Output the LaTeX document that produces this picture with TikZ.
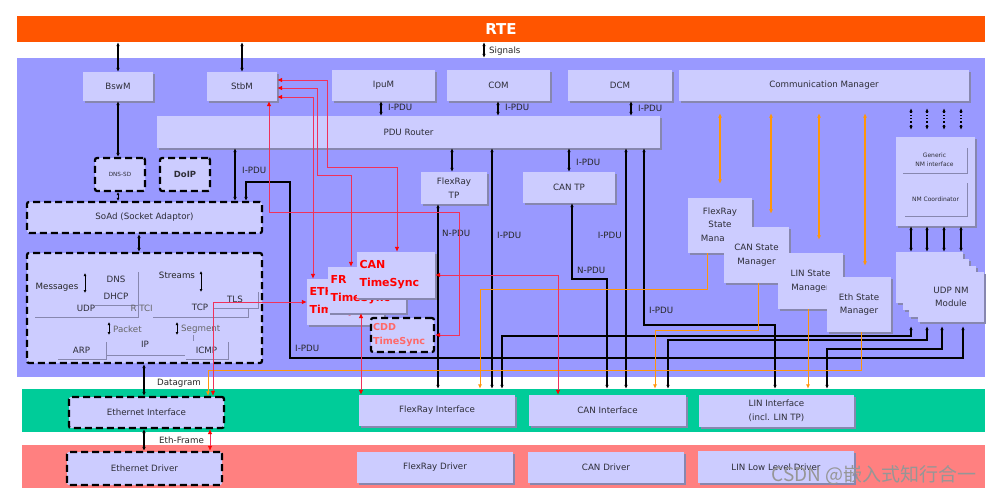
\documentclass[tikz,border=0pt]{standalone}
\usepackage{fontspec}
\setmainfont{DejaVu Sans}
\newfontfamily\cjkf{Noto Sans CJK SC}
\usetikzlibrary{arrows.meta,shadows}
\definecolor{rtec}{RGB}{255,85,0}
\definecolor{bswc}{RGB}{153,153,255}
\definecolor{boxc}{RGB}{204,204,255}
\definecolor{grnc}{RGB}{0,204,153}
\definecolor{pnkc}{RGB}{255,128,128}
\definecolor{shc}{RGB}{135,135,175}
\definecolor{txtc}{RGB}{45,45,55}
\definecolor{redl}{RGB}{240,50,90}
\definecolor{orgl}{RGB}{255,150,10}
\definecolor{cddt}{RGB}{255,105,105}
\definecolor{wmc}{RGB}{150,150,150}
\newcommand\bxat[7]{\node[#1, minimum width={#5-#3}, minimum height={#6-#4}] (#2) at ({(#3+#5)/2},{(#4+#6)/2}) {#7};}
\begin{document}
\begin{tikzpicture}[x=1pt,y=-1pt,
 fnt/.style={font=\fontsize{8.7}{13.5}\selectfont},
 bandst/.style={fill=#1, draw=none, inner sep=0pt},
 bxbase/.style={fill=boxc, draw=none, inner sep=0pt, align=center, text=txtc, fnt},
 bx/.style={bxbase, drop shadow={shadow xshift=1.5pt, shadow yshift=-1.5pt, fill=shc, opacity=1}},
 ibx/.style={bxbase, drop shadow={shadow xshift=1pt, shadow yshift=-1pt, fill=shc, opacity=1}},
 dbx/.style={bxbase, draw=black, line width=2.2pt, dash pattern=on 7pt off 4pt, rounded corners=2pt},
 tsbx/.style={bx, text=red, align=left, inner xsep=2.5pt, font=\fontsize{11}{18}\selectfont\bfseries},
 lbl/.style={inner sep=0pt, fnt, text=black!85},
 tipk/.style={>={Latex[length=4pt,width=3.6pt]}},
 dar/.style={<->, tipk, line width=1.2pt, black},
 tdar/.style={<->, >={Latex[length=3pt,width=3pt]}, line width=1pt, black},
 oar/.style={<->, >={Latex[length=4.5pt,width=4pt,color=orgl]}, line width=1.1pt, draw=orgl},
 oarr/.style={->, >={Latex[length=4.5pt,width=4pt,color=orgl]}, line width=1pt, draw=orgl},
 rar/.style={<->, >={Latex[length=5pt,width=4.6pt,color=red]}, line width=0.9pt, draw=redl}
]
\useasboundingbox (0,0) rectangle (992,496);
\fill[white] (0,0) rectangle (992,496);
% bands
\bxat{bandst=rtec, text=white, font=\fontsize{15}{17}\selectfont\bfseries}{rte}{17}{16}{985}{42}{RTE}
\bxat{bandst=bswc}{bsw}{17}{58}{985}{377}{}
\bxat{bandst=grnc}{grn}{22}{389}{985}{432}{}
\bxat{bandst=pnkc}{pnk}{22}{445}{985}{488}{}
% top row
\bxat{bx}{bswm}{83}{72}{153}{101}{BswM}
\bxat{bx}{stbm}{207}{72}{277}{101}{StbM}
\bxat{bx}{ipum}{332}{70}{435}{101}{IpuM}
\bxat{bx}{com}{447}{70}{550}{101}{COM}
\bxat{bx}{dcm}{568}{70}{672}{101}{DCM}
\bxat{bx}{comm}{679}{70}{969}{101}{Communication Manager}
\bxat{bx}{pdur}{157}{116}{660}{148}{PDU Router}
% ethernet stack
\bxat{dbx, font=\fontsize{5.7}{7}\selectfont}{dnssd}{95}{158}{145}{191}{DNS-SD}
\bxat{dbx, font=\fontsize{8.5}{10}\selectfont\bfseries}{doip}{160}{158}{210}{191}{DoIP}
\bxat{dbx}{soad}{27}{202}{262}{233}{SoAd (Socket Adaptor)}
\bxat{dbx}{tcpip}{27}{253}{262}{363}{}
\bxat{ibx}{udp}{34}{300}{138}{317}{UDP}
\bxat{ibx}{dns}{94}{271}{138}{287}{DNS}
\bxat{ibx}{dhcp}{94}{287}{138}{305}{DHCP}
\node[lbl, anchor=east, text=black!60] (rtci) at (153,308) {R TCI};
\bxat{ibx}{tcp}{152}{297}{248}{317}{TCP}
\bxat{ibx}{tls}{212}{291}{258}{308}{TLS}
\bxat{ibx}{ip}{97}{334}{193}{355}{IP}
\bxat{ibx}{arp}{57}{341}{106}{359}{ARP}
\bxat{ibx}{icmp}{185}{341}{228}{359}{ICMP}
% TPs
\bxat{bx}{frtp}{421}{172}{487}{204}{FlexRay\\TP}
\bxat{bx}{cantp}{523}{172}{615}{203}{CAN TP}
% state managers
\bxat{bx}{frsm}{688}{198}{752}{253}{FlexRay\\State\\Manager}
\bxat{bx}{cansm}{724}{227}{789}{283}{CAN State\\Manager}
\bxat{bx}{linsm}{778}{253}{843}{309}{LIN State\\Manager}
\bxat{bx}{ethsm}{827}{277}{891}{332}{Eth State\\Manager}
% NM
\bxat{bx}{nmo}{896}{137}{975}{226}{}
\bxat{ibx, font=\fontsize{6}{9}\selectfont}{gnm}{902}{147}{967}{173}{Generic\\NM interface}
\bxat{ibx, font=\fontsize{6}{9}\selectfont}{nmc}{904}{182}{967}{216}{NM Coordinator}
\bxat{bx}{nm1}{896}{252}{963}{303}{}
\bxat{bx}{nm2}{903}{259}{969}{310}{}
\bxat{bx}{nm3}{909}{266}{976}{317}{}
\bxat{bx}{udpnm}{918}{272}{984}{322}{UDP NM\\Module}
% TimeSync
\bxat{tsbx, text width=72pt}{ethts}{307}{279}{384}{325}{ETH\\TimeSync}
\bxat{tsbx, text width=73pt}{frts}{328}{267}{406}{313}{FR\\TimeSync}
\bxat{tsbx, text width=73pt}{cants}{357}{252}{435}{298}{CAN\\TimeSync}
\bxat{dbx, text=cddt, align=left, inner xsep=2pt, text width=59pt, font=\fontsize{9.6}{14}\selectfont\bfseries}{cddts}{371}{318}{434}{352}{CDD\\TimeSync}
% interfaces and drivers
\bxat{dbx}{ethif}{69}{397}{224}{428}{Ethernet Interface}
\bxat{bx}{frif}{359}{395}{515}{426}{FlexRay Interface}
\bxat{bx}{canif}{529}{395}{686}{426}{CAN Interface}
\bxat{bx}{linif}{699}{395}{854}{427}{LIN Interface\\(incl. LIN TP)}
\bxat{dbx}{ethdrv}{67}{452}{222}{485}{Ethernet Driver}
\bxat{bx}{frdrv}{357}{452}{513}{483}{FlexRay Driver}
\bxat{bx}{candrv}{528}{452}{684}{483}{CAN Driver}
\bxat{bx}{lindrv}{698}{451}{854}{483}{LIN Low Level Driver}

% ---------- black connectors
\draw[dar] (rte.south -| bswm.north) -- (bswm.north);
\draw[dar] (rte.south -| stbm.north) -- (stbm.north);
\draw[dar] (rte.south -| 484,0) -- (bsw.north -| 484,0);
\node[lbl, anchor=west] (sig) at (489,51) {Signals};
\draw[dar] (ipum.south -| 381,0) -- (pdur.north -| 381,0);
\node[lbl, anchor=west] (l1) at (388,107.5) {I-PDU};
\draw[dar] (com.south -| 498,0) -- (pdur.north -| 498,0);
\node[lbl, anchor=west] (l2) at (505,107.5) {I-PDU};
\draw[dar] (dcm.south -| 631,0) -- (pdur.north -| 631,0);
\node[lbl, anchor=west] (l3) at (638,108.5) {I-PDU};
\draw[dar] (bswm.south) -- (dnssd.north -| bswm.south);
\draw[tdar] (dnssd.south -| 118,0) -- (soad.north -| 118,0);
\draw[dar] (pdur.south -| 235,0) -- (soad.north -| 235,0);
\node[lbl, anchor=west] (l4) at (242,170) {I-PDU};
\draw[dar] (soad.south -| 139,0) -- (tcpip.north -| 139,0);
\draw[dar] (tcpip.south -| 144,0) -- (ethif.north -| 144,0);
\node[lbl, anchor=west] (l5) at (157,383) {Datagram};
\draw[dar] (ethif.south -| 144,0) -- (ethdrv.north -| 144,0);
\node[lbl, anchor=west] (l6) at (159,440) {Eth-Frame};
\draw[dar] (pdur.south -| 452,0) -- (frtp.north -| 452,0);
\draw[dar] (pdur.south -| 569,0) -- (cantp.north -| 569,0);
\node[lbl, anchor=west] (l7) at (576,162) {I-PDU};
\draw[dar] (frtp.south -| 438,0) -- (grn.north -| 438,0);
\node[lbl, anchor=west] (l8) at (442,233) {N-PDU};
\draw[dar] (pdur.south -| 492,0) -- (grn.north -| 492,0);
\node[lbl, anchor=west] (l9) at (497,235) {I-PDU};
\draw[dar] (cantp.south -| 572,0) -- (572,279) -| (grn.north -| 607,0);
\node[lbl, anchor=west] (l10) at (577,270) {N-PDU};
\draw[dar] (pdur.south -| 626,0) -- (grn.north -| 626,0);
\node[lbl, anchor=east] (l11) at (622,235) {I-PDU};
\draw[dar] (pdur.south -| 644,0) |- (775,325) -- (grn.north -| 775,0);
\node[lbl, anchor=west] (l12) at (649,310) {I-PDU};
\draw[dar, shorten <=4pt] (udpnm.south -| 911,0) |- (502,336) -- (grn.north -| 502,0);
\draw[dar, shorten <=4pt] (udpnm.south -| 927,0) |- (668,340) -- (grn.north -| 668,0);
\draw[dar, shorten <=4pt] (udpnm.south -| 942,0) |- (827,349) -- (grn.north -| 827,0);
\draw[dar, shorten <=4pt] (udpnm.south -| 963,0) |- (290,358) |- (246,182) -- (soad.north -| 246,0);
\node[lbl, anchor=west] (l13) at (295,348) {I-PDU};
\foreach \xx in {911,927,944,961} {
  \draw[dar, dotted, shorten <=7pt, shorten >=7pt] (comm.south -| \xx,0) -- (nmo.north -| \xx,0);
  \draw[dar] (nmo.south -| \xx,0) -- (nm1.north -| \xx,0);
}
% TCP/IP inner arrows
\coordinate (ma) at (85,273); \coordinate (mb) at (85,293);
\coordinate (sa) at (201,271); \coordinate (sb) at (201,292);
\coordinate (pa) at (109,322); \coordinate (pb) at (109,335);
\coordinate (ga) at (177,322); \coordinate (gb) at (177,335);
\draw[tdar] (ma) -- (mb);
\draw[tdar] (sa) -- (sb);
\draw[tdar] (pa) -- (pb);
\draw[tdar] (ga) -- (gb);
\node[lbl] (msg) at (57,287) {Messages};
\node[lbl] (str) at (177,275) {Streams};
\node[lbl, anchor=west, text=black!60] (pkt) at (113,329) {Packet};
\node[lbl, anchor=west, text=black!60] (seg) at (181,329) {Segment};

% ---------- orange connectors
\draw[oar, shorten <=12pt, shorten >=14pt] (comm.south -| 720,0) -- (frsm.north -| 720,0);
\draw[oar, shorten <=12pt, shorten >=13pt] (comm.south -| 771,0) -- (cansm.north -| 771,0);
\draw[oar, shorten <=12pt, shorten >=13pt] (comm.south -| 819,0) -- (linsm.north -| 819,0);
\draw[oar, shorten <=12pt, shorten >=11pt] (comm.south -| 865,0) -- (ethsm.north -| 865,0);
\draw[oarr] (frsm.south -| 707,0) |- (480,289) -- (grn.north -| 480,0);
\draw[oarr] (cansm.south -| 758,0) |- (655,330) -- (grn.north -| 655,0);
\draw[oarr] (linsm.south -| 808,0) -- (grn.north -| 808,0);
\draw[oarr] (ethsm.south -| 861,0) |- (208,370) -- (ethif.north -| 208,0);

% ---------- red connectors
\draw[rar] (stbm.east |- 0,80) -| (327,167) -| (cants.north -| 397,0);
\draw[rar] (stbm.east |- 0,88) -| (317,175) -| (frts.north -| 351,0);
\draw[rar] (stbm.east |- 0,97) -| (ethts.north -| 313,0);
\draw[rar] (stbm.south -| 269,0) |- (459,212) |- (cddts.east);
\draw[rar] (cants.east) -| (canif.north -| 558,0);
\draw[rar] (frts.south -| 361,0) -- (frif.north -| 361,0);
\draw[rar] (ethts.west) -| (ethif.north -| 213,0);
\draw[rar] (ethif.south -| 210,0) -- (ethdrv.north -| 210,0);

% watermark
\node[inner sep=0pt, text=wmc, anchor=east, font=\cjkf\fontsize{19}{20}\selectfont] (wm) at (977,475) {CSDN @嵌入式知行合一};
\end{tikzpicture}
\end{document}
